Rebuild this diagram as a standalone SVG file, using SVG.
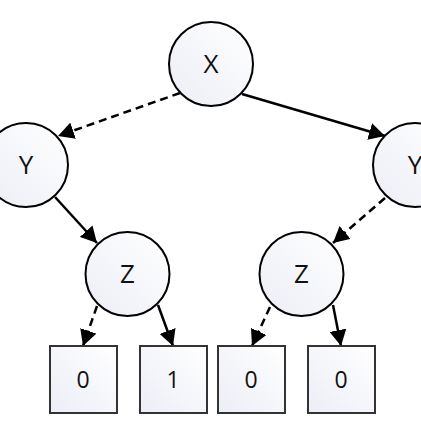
<svg xmlns="http://www.w3.org/2000/svg" width="421" height="421" viewBox="0 0 421 421">
<defs>
<linearGradient id="g" x1="1" y1="0" x2="0" y2="1">
<stop offset="0" stop-color="#ffffff"/>
<stop offset="1" stop-color="#eceef6"/>
</linearGradient>
<marker id="ah" markerUnits="userSpaceOnUse" markerWidth="17" markerHeight="17" refX="16" refY="8.5" orient="auto">
<path d="M0,0 L16,8.5 L0,17 z" fill="#000"/>
</marker>
<style>
.n{fill:url(#g);stroke:#000;stroke-width:2}
.b{fill:url(#g);stroke:#333;stroke-width:2}
.t{font-family:"Open Sans","Liberation Sans",sans-serif;font-size:26px;fill:#111;text-anchor:middle}
.d{font-family:"Open Sans","Liberation Sans",sans-serif;font-size:23px;fill:#111;text-anchor:middle}
.e{stroke:#000;stroke-width:2.5;fill:none;marker-end:url(#ah)}
.dash{stroke-dasharray:8,5}
</style>
</defs>
<rect width="421" height="421" fill="#fff"/>
<g id="edges">
<line class="e dash" x1="180" y1="93" x2="58" y2="136"/>
<line class="e" x1="242" y1="94" x2="385" y2="136"/>
<line class="e" x1="55" y1="197" x2="97" y2="243"/>
<line class="e dash" x1="385" y1="198" x2="333" y2="243"/>
<line class="e dash" x1="97" y1="306" x2="83" y2="346"/>
<line class="e" x1="158" y1="305" x2="173" y2="346"/>
<line class="e dash" x1="270" y1="307" x2="252" y2="346"/>
<line class="e" x1="333" y1="305" x2="341" y2="346"/>
</g>
<g id="nX"><circle class="n" cx="211" cy="64" r="42"/><text class="t" x="211" y="73">X</text></g>
<g id="nYL"><circle class="n" cx="26" cy="165" r="42"/><text class="t" x="26" y="174">Y</text></g>
<g id="nYR"><circle class="n" cx="415" cy="165" r="42"/><text class="t" x="415" y="174">Y</text></g>
<g id="nZL"><circle class="n" cx="127.5" cy="274" r="42"/><text class="t" x="127.5" y="282.5">Z</text></g>
<g id="nZR"><circle class="n" cx="301.5" cy="274" r="42"/><text class="t" x="301.5" y="282.5">Z</text></g>
<g id="b1"><rect class="b" x="50" y="346" width="67" height="67"/><text class="d" x="83" y="387.5">0</text></g>
<g id="b2"><rect class="b" x="140" y="346" width="67" height="67"/><text class="d" x="173" y="387.5">1</text></g>
<g id="b3"><rect class="b" x="218" y="346" width="67" height="67"/><text class="d" x="251" y="387.5">0</text></g>
<g id="b4"><rect class="b" x="308" y="346" width="67" height="67"/><text class="d" x="341" y="387.5">0</text></g>
</svg>
